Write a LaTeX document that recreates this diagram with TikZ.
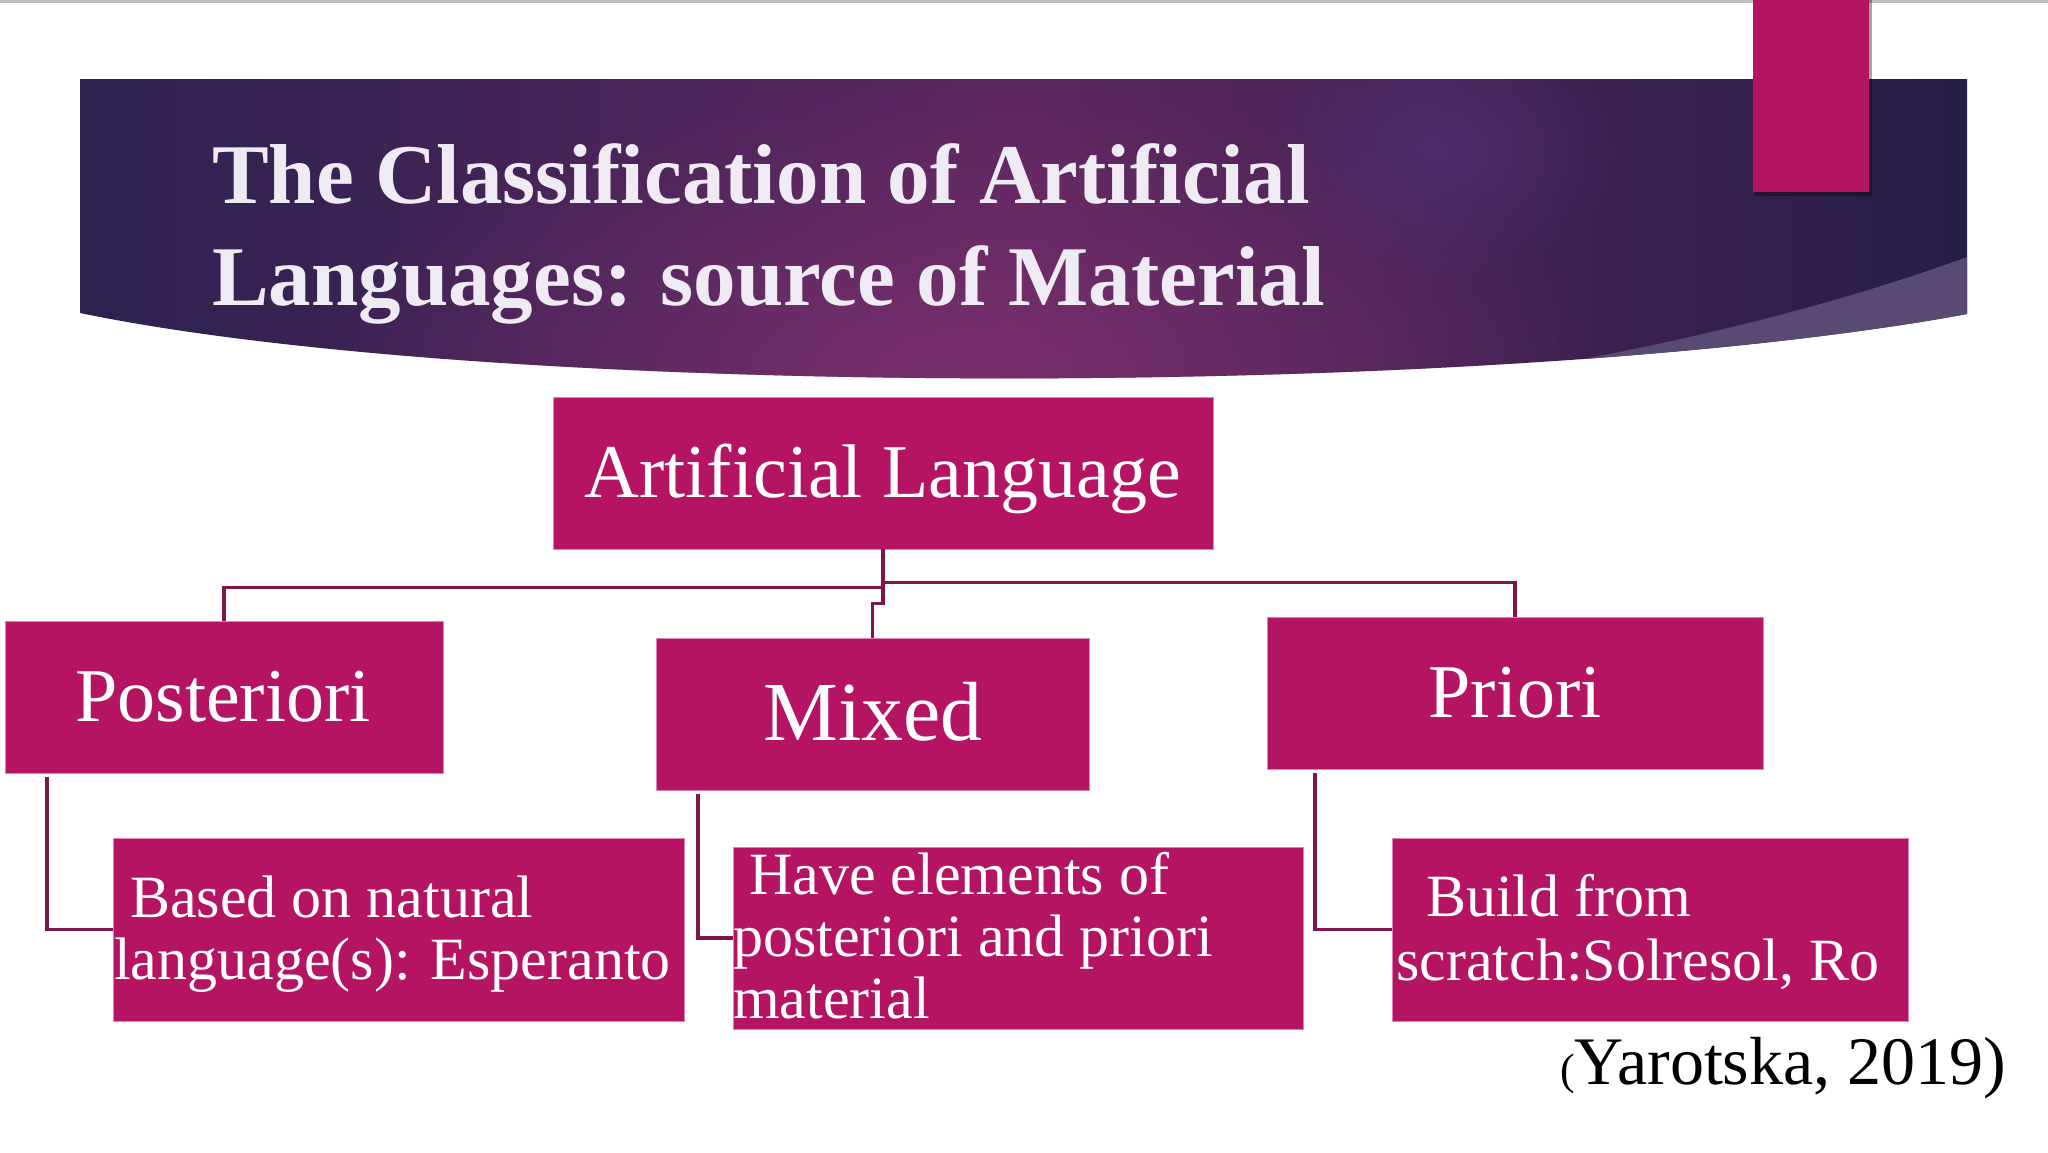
\documentclass[tikz,border=0pt]{standalone}
\usepackage{fontspec}
\setmainfont{Liberation Serif}
\usetikzlibrary{fadings}
\tikzfading[name=glowfade, inner color=transparent!0, outer color=transparent!100]
\definecolor{berry}{RGB}{180,20,98}
\definecolor{berryedge}{RGB}{226,130,180}
\definecolor{connc}{RGB}{130,20,76}
\definecolor{banL}{RGB}{44,33,80}
\definecolor{banM}{RGB}{92,38,96}
\definecolor{banR}{RGB}{38,30,70}
\definecolor{glowc}{RGB}{128,50,112}
\definecolor{spotc}{RGB}{84,50,122}
\definecolor{swooshc}{RGB}{88,74,114}
\definecolor{titlec}{RGB}{238,236,242}
\begin{document}
\begin{tikzpicture}[x=1pt,y=-1pt,
  box/.style={fill=berry, draw=berryedge, line width=0.8pt, inner sep=0pt},
  conn/.style={draw=connc, line width=3.3pt},
  ttl/.style={font=\fontsize{85}{90}\selectfont\bfseries, text=titlec, inner sep=0pt, anchor=base west},
  big/.style={text=white, inner sep=0pt, anchor=base},
  body/.style={font=\fontsize{60}{62}\selectfont, text=white, inner sep=0pt, anchor=base west}]
% background
\fill[white] (0,0) rectangle (2048,1152);
\useasboundingbox (0,0) rectangle (2048,1152);
\draw[draw={rgb,255:red,190;green,190;blue,190}, line width=3pt] (0,1) -- (2048,1);
% banner
\begin{scope}
\clip (80,79) -- (1967,79) -- (1967,314) .. controls (1500,400) and (500,400) .. (80,313) -- cycle;
\shade[left color=banL, right color=banR, middle color=banM] (80,79) rectangle (1967,400);
\fill[glowc, opacity=0.8, path fading=glowfade] (960,380) ellipse [x radius=650, y radius=300];
\fill[spotc, opacity=0.6, path fading=glowfade] (1440,150) ellipse [x radius=180, y radius=140];
\fill[swooshc] (1967,257) .. controls (1800,318) and (1600,362) .. (1380,392) -- (1380,450) -- (2000,450) -- (2000,257) -- cycle;
\end{scope}
% pink bar
\fill[black, opacity=0.35] (1755,0) rectangle (1872,196);
\fill[berry] (1753,0) rectangle (1869,192);
% title
\node[ttl] (t1) at (212,203) {The Classification of Artificial};
\node[ttl] (t2) at (212,305) {Languages: source of Material};
% boxes
\node[box, minimum width=660pt, minimum height=152pt] (al) at (883,473) {};
\node[box, minimum width=438pt, minimum height=152pt] (post) at (224,697) {};
\node[box, minimum width=433pt, minimum height=152pt] (mix) at (872.5,714) {};
\node[box, minimum width=496pt, minimum height=152pt] (pri) at (1515,693) {};
\node[box, minimum width=571pt, minimum height=183pt] (based) at (398.5,929.5) {};
\node[box, minimum width=570pt, minimum height=182pt] (have) at (1018,938) {};
\node[box, minimum width=516pt, minimum height=183pt] (build) at (1650,929.5) {};
% box texts
\node[big, font=\fontsize{76}{80}\selectfont] (altxt) at (883,497) {Artificial Language};
\node[big, font=\fontsize{76}{80}\selectfont] (posttxt) at (223,721) {Posteriori};
\node[big, font=\fontsize{84}{88}\selectfont] (mixtxt) at (873,740) {Mixed};
\node[big, font=\fontsize{76}{80}\selectfont] (pritxt) at (1515,717) {Priori};
\node[body] (b1) at (130,917) {Based on natural};
\node[body] (b2) at (114,979) {language(s): Esperanto};
\node[body] (h1) at (749,894) {Have elements of};
\node[body] (h2) at (733,956) {posteriori and priori};
\node[body] (h3) at (733,1018) {material};
\node[body] (s1) at (1426,916) {Build from};
\node[body] (s2) at (1396,980) {scratch:Solresol, Ro};
% citation
\node[inner sep=0pt, anchor=base west, text=black] (cite) at (1560,1084) {{\fontsize{44}{48}\selectfont(}{\fontsize{68}{72}\selectfont Yarotska, 2019)}};
% connectors
\draw[conn] (al.south) -- ++(0,38) -| (post.north);
\draw[conn] (al.south) ++(0,33) -| (pri.north);
\draw[conn] (al.south) -- ++(0,54) -| (mix.north);
\draw[conn] ([shift={(-177,4)}]post.south) |- (based.west);
\draw[conn] ([shift={(-174.5,4)}]mix.south) |- (have.west);
\draw[conn] ([shift={(-200,4)}]pri.south) |- (build.west);
\end{tikzpicture}
\end{document}
